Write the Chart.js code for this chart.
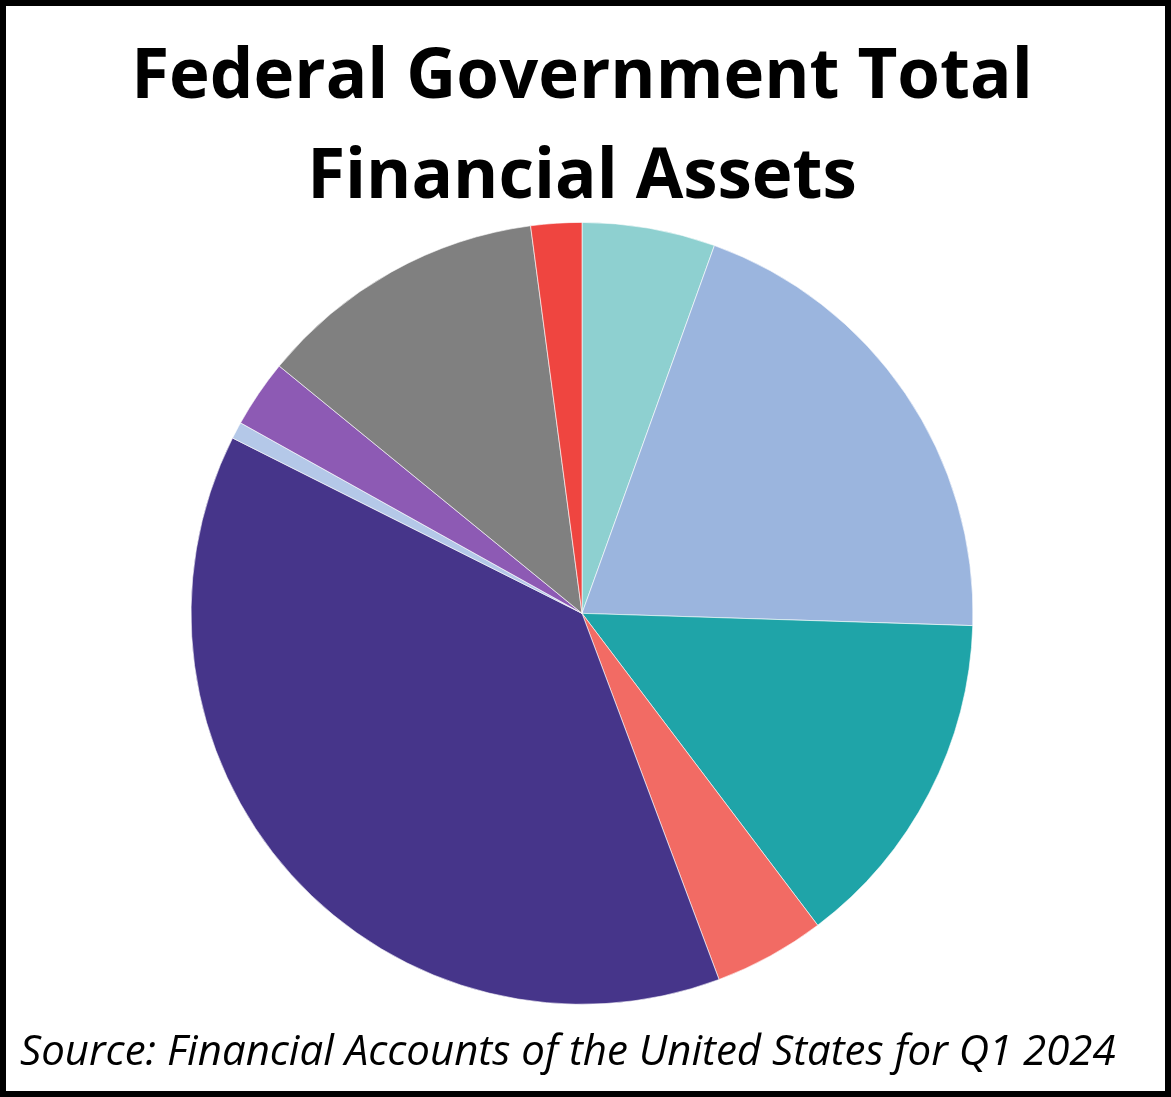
<!DOCTYPE html>
<html>
<head>
<meta charset="utf-8">
<script src="https://cdn.jsdelivr.net/npm/chart.js@4/dist/chart.umd.min.js"></script>
<style>
  html, body { margin: 0; padding: 0; background: #fff; }
  #frame { width: 1171px; height: 1097px; box-sizing: border-box; border: 6px solid #000; position: relative; background: #fff; }
  #wrap { width: 1159px; height: 1085px; }
</style>
</head>
<body>
<div id="frame"><div id="wrap"><canvas id="c"></canvas></div></div>
<script>
const titleLines = ["Federal Government Total", "Financial Assets"];
const sourceText = "Source: Financial Accounts of the United States for Q1 2024";
const categories = [
  "Checkable deposits and currency",
  "Time and savings deposits / other",
  "Debt securities",
  "Equity and investment fund shares",
  "Loans (consumer credit)",
  "Gold and SDRs",
  "Official foreign exchange",
  "Mortgages and other loans",
  "Miscellaneous assets"
];
const shares = [5.5, 20.0, 14.2, 4.6, 38.1, 0.7, 2.8, 12.0, 2.1];
const colors = ["#8ED0D0", "#9BB5DE", "#1FA4A8", "#F26B64", "#46358A", "#B4C8E8", "#8D5AB4", "#808080", "#EF4540"];

new Chart(document.getElementById('c'), {
  type: 'pie',
  data: {
    labels: categories,
    datasets: [{
      data: shares,
      backgroundColor: colors,
      borderColor: '#ffffff',
      borderWidth: 0.6
    }]
  },
  options: {
    responsive: true,
    maintainAspectRatio: false,
    animation: false,
    layout: { padding: { left: 14, right: 21, top: 12, bottom: 0 } },
    plugins: {
      legend: { display: false },
      tooltip: { enabled: false },
      title: {
        display: true,
        text: titleLines,
        color: '#000',
        font: { family: 'Open Sans', weight: 'bold', size: 69, lineHeight: 1.45 },
        padding: { top: 10, bottom: -6 }
      },
      subtitle: {
        display: true,
        position: 'bottom',
        align: 'start',
        text: sourceText,
        color: '#000',
        font: { family: 'Open Sans', style: 'italic', size: 42, lineHeight: 1.2 },
        padding: { top: 23, bottom: 13 }
      }
    }
  }
});
</script>
</body>
</html>
